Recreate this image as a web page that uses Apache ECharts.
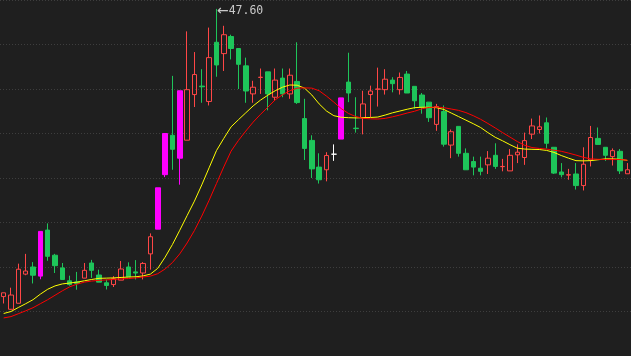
<!DOCTYPE html>
<html>
<head>
<meta charset="utf-8">
<script src="https://cdn.jsdelivr.net/npm/echarts@6/dist/echarts.min.js"></script>
<style>
html,body{margin:0;padding:0;background:#1f1f1f;}
#main{width:631px;height:356px;}
</style>
</head>
<body>
<div id="main"></div>
<script>
// ---- data ----
const days = Array.from({length: 86}, (_, i) => 'D' + (i + 1));
const open = [34.67,34.10,34.37,35.68,36.00,35.59,37.66,36.53,35.96,35.38,
35.33,35.50,36.18,35.64,35.29,35.21,35.41,36.00,35.78,35.73,
36.59,37.70,40.15,41.92,40.89,41.70,43.75,44.13,43.44,46.10,
45.59,46.36,45.82,45.04,43.78,44.52,44.77,43.63,44.49,43.78,
44.34,42.67,41.69,40.49,40.37,41.07,41.75,44.31,42.24,42.71,
43.75,43.99,43.97,44.40,43.97,44.67,44.12,43.73,43.41,42.41,
42.99,41.48,42.32,41.11,40.74,40.44,40.59,41.02,40.51,40.32,
41.04,40.92,41.97,42.18,42.48,41.38,40.27,40.13,40.18,39.66,
40.81,41.78,41.38,40.96,41.20,40.19];
const close = [34.84,34.74,35.90,35.82,35.63,37.60,36.48,36.06,35.44,35.21,
35.26,35.85,35.85,35.32,35.17,35.47,35.91,35.56,35.73,36.16,
37.36,39.56,42.00,41.29,43.92,43.97,44.65,44.10,45.41,45.08,
46.44,45.82,45.11,43.91,44.08,44.53,43.78,44.40,43.78,44.62,
43.39,41.33,40.41,39.92,41.01,41.07,43.60,43.82,42.22,43.33,
43.91,44.00,44.44,44.24,44.52,43.82,43.47,43.19,42.71,43.21,
41.52,42.08,41.11,40.37,40.49,40.30,40.89,40.52,40.52,41.02,
41.16,41.68,42.34,42.30,41.56,40.22,40.15,40.15,39.66,40.62,
41.82,41.51,41.02,41.23,40.32,40.37];
const low = [34.36,34.09,34.37,35.63,35.26,35.45,36.28,35.73,35.44,35.16,
34.98,35.50,35.51,35.32,34.99,35.10,35.41,35.56,35.44,35.44,
35.88,37.70,40.04,40.37,39.70,41.70,43.19,43.38,43.26,44.55,
44.81,45.33,44.00,43.38,43.38,43.78,43.04,43.48,43.63,43.56,
43.33,40.81,40.00,39.75,39.85,40.77,41.75,43.41,42.04,41.96,
42.74,43.21,43.75,43.85,43.75,43.82,43.11,42.89,42.52,42.12,
41.41,40.89,40.96,40.37,40.12,40.12,40.18,40.41,40.30,40.32,
40.67,40.59,41.75,42.00,41.33,40.18,40.03,39.92,39.48,39.44,
40.52,41.51,40.77,40.56,40.18,40.19];
const high = [34.84,35.07,36.15,36.59,36.22,37.60,37.96,36.59,36.18,35.61,
35.78,36.18,36.32,35.88,35.44,35.59,36.27,36.21,36.31,36.22,
37.51,39.56,42.00,44.59,43.92,46.59,45.66,44.89,46.76,47.60,
46.84,46.44,45.82,45.41,44.37,44.92,44.77,44.92,44.92,44.92,
46.10,43.56,41.92,41.11,41.16,41.51,43.60,45.63,43.63,43.92,
44.15,44.96,44.89,44.53,44.74,44.81,44.12,43.82,43.41,43.33,
43.26,42.18,42.32,41.33,40.96,40.96,41.21,41.56,40.86,41.30,
41.51,42.04,42.67,42.81,42.72,41.38,40.67,40.41,40.67,41.38,
42.34,42.27,41.38,41.33,41.30,40.67];
const maFast = [33.91,34.00,34.18,34.35,34.53,34.78,35.00,35.15,35.24,35.28,
35.32,35.38,35.44,35.49,35.50,35.51,35.53,35.55,35.56,35.60,
35.68,35.94,36.44,37.01,37.65,38.31,38.96,39.69,40.46,41.23,
41.78,42.30,42.62,42.93,43.24,43.50,43.72,43.92,44.08,44.18,
44.17,44.04,43.73,43.33,43.01,42.80,42.73,42.71,42.70,42.71,
42.72,42.74,42.83,42.93,43.01,43.09,43.16,43.18,43.18,43.16,
43.08,42.92,42.76,42.60,42.44,42.27,42.04,41.83,41.67,41.50,
41.34,41.30,41.29,41.28,41.24,41.15,41.01,40.89,40.78,40.77,
40.78,40.82,40.86,40.86,40.84,40.79];
const maSlow = [33.71,33.77,33.90,34.03,34.17,34.35,34.53,34.73,34.93,35.11,
35.23,35.32,35.37,35.40,35.42,35.44,35.47,35.48,35.51,35.55,
35.59,35.70,35.91,36.20,36.59,37.08,37.64,38.29,39.00,39.75,
40.50,41.21,41.69,42.11,42.51,42.86,43.18,43.51,43.74,43.92,
44.04,44.05,44.04,43.92,43.68,43.41,43.12,42.90,42.76,42.68,
42.66,42.65,42.68,42.75,42.83,42.92,43.00,43.11,43.17,43.19,
43.16,43.10,43.04,42.94,42.80,42.64,42.45,42.25,42.04,41.84,
41.64,41.47,41.37,41.33,41.30,41.25,41.20,41.12,41.03,40.93,
40.86,40.84,40.83,40.83,40.83,40.80];
const limitUpDays = [5, 21, 22, 24, 46];

// ---- styles ----
const UP = '#ff4646', DOWN = '#1ec55a', LIMIT = '#ff00ff', FLAT = '#ffffff';
function styleFor(i) {
  let fill, stroke;
  if (limitUpDays.indexOf(i) >= 0) { fill = LIMIT; stroke = LIMIT; }
  else if (close[i] > open[i]) { fill = 'rgba(0,0,0,0)'; stroke = UP; }
  else if (close[i] < open[i]) { fill = DOWN; stroke = DOWN; }
  else { fill = FLAT; stroke = FLAT; }
  return {color: fill, color0: fill, borderColor: stroke, borderColor0: stroke, borderColorDoji: stroke};
}
const kData = days.map((d, i) => ({
  value: [open[i], close[i], low[i], high[i]],
  itemStyle: styleFor(i)
}));

const chart = echarts.init(document.getElementById('main'), null, {renderer: 'canvas'});
chart.setOption({
  backgroundColor: '#1f1f1f',
  animation: false,
  grid: {left: -1.6, width: 635.2, top: 0, height: 360},
  xAxis: {
    type: 'category', data: days, boundaryGap: true,
    axisLine: {show: false}, axisTick: {show: false}, axisLabel: {show: false}, splitLine: {show: false}
  },
  yAxis: {
    type: 'value', min: 32, max: 48, interval: 2, scale: true,
    axisLine: {show: false}, axisTick: {show: false}, axisLabel: {show: false},
    splitLine: {show: true, lineStyle: {color: '#3e3e3e', type: [1, 2], width: 1}}
  },
  series: [
    {
      type: 'candlestick', data: kData, barWidth: 5,
      itemStyle: {borderWidth: 1},
      markPoint: {
        symbol: 'circle', symbolSize: 1,
        itemStyle: {color: 'rgba(0,0,0,0)'},
        label: {
          show: true, position: 'right', distance: 0, offset: [0, 2],
          formatter: p => '{a|←}{b|' + Number(p.value).toFixed(2) + '}',
          rich: {
            a: {fontFamily: 'DejaVu Sans', fontSize: 14, color: '#c8c8c8'},
            b: {fontFamily: 'DejaVu Sans Mono', fontSize: 11.5, color: '#c8c8c8'}
          }
        },
        data: [{type: 'max', valueDim: 'highest'}]
      }
    },
    {type: 'line', data: maFast, symbol: 'none', lineStyle: {color: '#ffff00', width: 1}, z: 3},
    {type: 'line', data: maSlow, symbol: 'none', lineStyle: {color: '#ff0000', width: 1}, z: 3}
  ]
});
</script>
</body>
</html>
